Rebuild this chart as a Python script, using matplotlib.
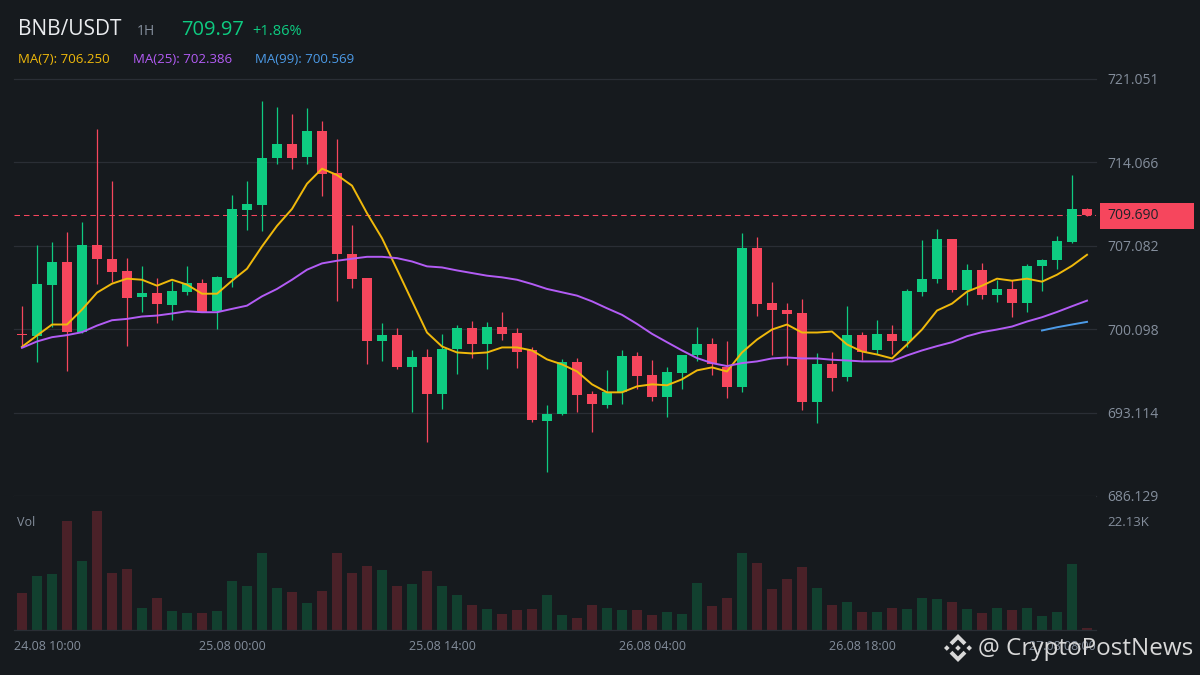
import numpy as np
import matplotlib
matplotlib.use("Agg")
import matplotlib.pyplot as plt
from matplotlib.patches import Rectangle, Polygon
from matplotlib import transforms

plt.rcParams['font.family'] = ['Open Sans', 'DejaVu Sans']

# ---------------- data ----------------
opens = [699.70, 699.57, 703.83, 705.75, 699.85, 707.16, 706.00, 705.00, 702.82, 703.16,
         702.16, 703.24, 703.99, 701.66, 704.41, 710.09, 710.50, 714.43, 715.60, 714.51,
         716.68, 713.18, 706.41, 704.41, 699.15, 699.65, 696.90, 697.73, 694.64, 698.40,
         700.24, 698.82, 700.32, 699.82, 698.32, 692.39, 692.97, 697.32, 694.64, 693.73,
         694.81, 697.82, 696.23, 694.39, 696.40, 697.90, 698.82, 696.90, 695.23, 706.92,
         702.32, 701.74, 701.49, 693.98, 697.15, 696.06, 699.65, 698.32, 699.73, 699.07,
         703.24, 704.33, 707.67, 703.41, 705.08, 702.99, 703.49, 702.32, 705.41, 705.91,
         707.42, 710.17]
highs = [702.07, 707.16, 707.42, 708.25, 709.08, 716.85, 712.51, 706.08, 705.41, 704.41,
         704.16, 705.41, 704.33, 704.58, 711.34, 712.51, 719.19, 718.69, 718.10, 718.60,
         717.52, 716.01, 708.83, 704.41, 700.65, 700.24, 698.32, 698.40, 699.73, 700.49,
         700.82, 700.74, 701.57, 700.24, 698.57, 693.73, 697.57, 697.65, 694.89, 696.65,
         698.32, 698.23, 697.48, 696.90, 697.95, 700.32, 699.40, 699.15, 708.17, 707.83,
         704.08, 702.32, 702.66, 698.07, 698.15, 702.07, 699.90, 700.91, 700.49, 703.49,
         707.58, 708.50, 707.67, 705.58, 705.66, 704.24, 704.24, 705.58, 706.00, 707.92,
         713.01, 710.25]
lows = [698.60, 697.34, 700.27, 696.59, 699.80, 703.91, 704.05, 698.73, 701.57, 700.65,
        700.90, 702.99, 701.55, 700.15, 703.66, 708.42, 708.33, 713.93, 713.51, 713.93,
        711.26, 702.49, 703.57, 697.19, 697.43, 696.73, 693.14, 690.64, 693.39, 696.31,
        697.65, 696.73, 699.23, 696.81, 692.30, 688.13, 692.89, 693.14, 691.47, 693.47,
        693.81, 695.06, 694.06, 692.72, 695.06, 697.40, 696.23, 694.31, 694.81, 701.24,
        697.90, 697.07, 693.31, 692.22, 694.89, 695.73, 697.48, 697.98, 697.98, 698.57,
        702.91, 704.00, 703.24, 702.16, 702.66, 702.41, 701.16, 701.57, 703.33, 705.16,
        707.33, 709.55]
closes = [699.62, 703.91, 705.75, 699.90, 707.16, 706.00, 704.91, 702.74, 703.16, 702.24,
          703.33, 703.99, 701.57, 704.49, 710.17, 710.59, 714.43, 715.60, 714.43, 716.68,
          713.09, 706.41, 704.33, 699.07, 699.65, 696.90, 697.73, 694.64, 698.48, 700.24,
          698.82, 700.32, 699.73, 698.23, 692.47, 692.97, 697.32, 694.56, 693.81, 694.81,
          697.82, 696.15, 694.39, 696.48, 697.90, 698.82, 697.15, 695.23, 706.92, 702.24,
          701.74, 701.41, 693.98, 697.15, 695.98, 699.65, 698.23, 699.73, 699.15, 703.33,
          704.33, 707.67, 703.41, 705.08, 702.99, 703.49, 702.32, 705.41, 705.91, 707.50,
          710.17, 709.69]
volumes_k = [7.42, 10.9, 11.3, 22.1, 14.0, 24.2, 11.5, 12.3, 4.36, 6.40,
             3.75, 3.34, 3.34, 3.75, 9.87, 8.85, 15.6, 8.44, 7.63, 5.38,
             7.83, 15.6, 11.5, 12.9, 12.1, 8.85, 9.26, 11.9, 8.85, 7.01,
             4.97, 4.15, 3.13, 3.95, 4.15, 7.01, 2.93, 2.32, 4.97, 4.36,
             3.95, 3.95, 2.93, 3.54, 3.13, 9.46, 4.77, 6.40, 15.6, 13.6,
             8.24, 10.3, 12.7, 8.44, 4.97, 5.58, 3.54, 3.54, 4.36, 4.15,
             6.40, 6.20, 5.58, 4.15, 3.34, 4.36, 3.95, 4.36, 2.72, 3.54,
             13.3, 0.27]
ma7 = [698.62, 699.57, 700.49, 700.49, 701.74, 703.16, 703.91, 704.33, 704.24, 703.74,
       704.24, 703.83, 703.07, 703.07, 704.16, 705.16, 707.03, 708.75, 710.17, 712.28,
       713.54, 713.01, 712.12, 709.81, 707.72, 705.11, 702.46, 699.82, 698.65, 698.15,
       698.07, 698.15, 698.57, 698.57, 698.32, 697.57, 697.15, 696.56, 695.48, 694.81,
       694.81, 695.31, 695.48, 695.40, 695.90, 696.65, 696.90, 696.56, 698.15, 699.23,
       700.07, 700.49, 699.82, 699.82, 699.90, 698.82, 698.23, 697.98, 697.65, 698.82,
       700.07, 701.66, 702.24, 703.24, 703.74, 704.33, 704.16, 704.33, 704.08, 704.66,
       705.41, 706.33]
ma25 = [698.54, 699.07, 699.43, 699.60, 699.85, 700.40, 700.85, 700.96, 701.16, 701.24,
        701.41, 701.60, 701.52, 701.52, 701.80, 702.07, 702.85, 703.47, 704.24, 705.08,
        705.61, 705.83, 706.00, 706.16, 706.16, 706.05, 705.77, 705.36, 705.27, 705.02,
        704.80, 704.58, 704.44, 704.24, 703.88, 703.47, 703.19, 702.91, 702.43, 701.85,
        701.30, 700.54, 699.71, 699.01, 698.32, 697.68, 697.26, 697.01, 697.26, 697.40,
        697.65, 697.73, 697.65, 697.65, 697.54, 697.48, 697.40, 697.40, 697.40, 697.90,
        698.32, 698.68, 699.01, 699.51, 699.85, 700.07, 700.32, 700.74, 701.10, 701.54,
        702.02, 702.49]
ma99_start = 68
ma99 = [699.99, 700.26, 700.49, 700.71]

price_ticks = [686.129, 693.114, 700.098, 707.082, 714.066, 721.051]
time_tick_idx = [0, 14, 28, 42, 56, 70]
time_tick_labels = ["24.08 10:00", "25.08 00:00", "25.08 14:00",
                    "26.08 04:00", "26.08 18:00", "27.08 08:00"]
last_price = 709.69
vol_label_value = 22.13

# ---------------- style ----------------
BG = '#161A1E'
GRID = '#2A2E35'
TXT = '#848E9C'
UP = '#0ECB81'
DN = '#F6465D'
UPV = '#12402F'
DNV = '#4A2128'
C7 = '#F0B90B'
C25 = '#B35CF5'
C99 = '#4C9BE8'

W, H = 1200, 675
fig = plt.figure(figsize=(12, 6.75), dpi=100, facecolor=BG)

def fx(px):
    return px / W

def fy(py):
    return 1 - py / H

left_px, right_px = 14, 1096
p_top, p_bot = 79, 496
v_bot = 629.5

ax = fig.add_axes([fx(left_px), fy(p_bot), (right_px - left_px) / W, (p_bot - p_top) / H])
axv = fig.add_axes([fx(left_px), fy(v_bot), (right_px - left_px) / W, (v_bot - p_bot) / H])
for a in (ax, axv):
    a.set_facecolor(BG)
    for s in a.spines.values():
        s.set_visible(False)

n = len(closes)
x = np.arange(n)
o = np.array(opens); c = np.array(closes); h = np.array(highs); l = np.array(lows)
up = c >= o
cols = np.where(up, UP, DN)
xlim = (-(22 - left_px) / 15.0, (right_px - 22) / 15.0)

# gridlines
for t in price_ticks:
    ax.axhline(t, color=GRID, lw=0.9, zorder=0, clip_on=False)

ax.vlines(x, l, h, colors=cols, lw=0.9, zorder=2)
body_h = np.maximum(np.abs(c - o), 0.09)
ax.bar(x, body_h, bottom=np.minimum(o, c), width=0.62, color=cols, zorder=3, linewidth=0)

ax.plot(x, ma7, color=C7, lw=1.4, zorder=4, solid_joinstyle='round')
ax.plot(x, ma25, color=C25, lw=1.4, zorder=4, solid_joinstyle='round')
ax.plot(np.arange(ma99_start, ma99_start + len(ma99)), ma99, color=C99, lw=1.4, zorder=4)

ax.axhline(last_price, color=DN, lw=0.75, dashes=(5.3, 3.8), zorder=1)

ax.set_xlim(*xlim)
ax.set_ylim(price_ticks[0], price_ticks[-1])
ax.set_xticks([])
ax.yaxis.tick_right()
ax.set_yticks(price_ticks)
ax.set_yticklabels([f"{t:.3f}" for t in price_ticks])
ax.tick_params(axis='y', length=0, pad=8, labelcolor=TXT, labelsize=10)

# last price label
bt = transforms.blended_transform_factory(fig.transFigure, ax.transData)
box_h = 26 / ((p_bot - p_top) / (price_ticks[-1] - price_ticks[0]))
fig.patches.append(Rectangle((fx(1100), last_price - box_h / 2 - 0.08), fx(94), box_h,
                             transform=bt, facecolor=DN, edgecolor='none', zorder=5))
fig.text(fx(1107), last_price - 0.08, f"{last_price:.3f}", transform=bt, color='#1E2329',
         fontsize=10, va='center', ha='left', zorder=6)

# volume
vcols = np.where(up, UPV, DNV)
axv.bar(x, volumes_k, width=0.62, color=vcols, linewidth=0, zorder=2)
axv.axhline(0, color=GRID, lw=0.9, zorder=3, clip_on=False)
axv.set_xlim(*xlim)
axv.set_ylim(0, vol_label_value * (v_bot - p_bot) / (v_bot - 521))
axv.set_xticks([])
axv.yaxis.tick_right()
axv.set_yticks([vol_label_value])
axv.set_yticklabels([f"{vol_label_value:.2f}K"])
axv.tick_params(axis='y', length=0, pad=8, labelcolor=TXT, labelsize=9.5)

tt = transforms.blended_transform_factory(axv.transData, fig.transFigure)
for k, (i, lab) in enumerate(zip(time_tick_idx, time_tick_labels)):
    if k == 0:
        xx, ha = xlim[0], 'left'
    elif k == len(time_tick_idx) - 1:
        xx, ha = xlim[1], 'right'
    else:
        xx, ha = i, 'center'
    fig.text(xx, fy(647), lab, transform=tt, ha=ha, va='center', color=TXT, fontsize=9)

fig.text(fx(17), fy(523), "Vol", color=TXT, fontsize=9, va='center', ha='left')

# header
fig.text(fx(18), fy(35), "BNB/USDT", color='#EAECEF', fontsize=15, va='baseline')
fig.text(fx(137), fy(35), "1H", color=TXT, fontsize=10, va='baseline')
fig.text(fx(181), fy(35), "709.97", color=UP, fontsize=14.5, va='baseline')
fig.text(fx(252), fy(35), "+1.86%", color=UP, fontsize=10.5, va='baseline')
fig.text(fx(18), fy(63), "MA(7): 706.250", color=C7, fontsize=9.5, va='baseline')
fig.text(fx(133), fy(63), "MA(25): 702.386", color=C25, fontsize=9.5, va='baseline')
fig.text(fx(255), fy(63), "MA(99): 700.569", color=C99, fontsize=9.5, va='baseline')

# watermark
wm_col = '#D8D8D8'
cxl, cyl, s = 958, 648, 14
def logo_poly(pts):
    xy = [(fx(cxl + px * s), fy(cyl - py * s)) for px, py in pts]
    fig.patches.append(Polygon(xy, closed=True, transform=fig.transFigure,
                               facecolor=wm_col, edgecolor='none', zorder=10))
logo_poly([(0, 0.2), (0.2, 0), (0, -0.2), (-0.2, 0)])
logo_poly([(0.8, 0.2), (1.0, 0), (0.8, -0.2), (0.6, 0)])
logo_poly([(-0.8, 0.2), (-0.6, 0), (-0.8, -0.2), (-1.0, 0)])
logo_poly([(0, 1.0), (0.6, 0.4), (0.4, 0.2), (0, 0.6), (-0.4, 0.2), (-0.6, 0.4)])
logo_poly([(0, -1.0), (0.6, -0.4), (0.4, -0.2), (0, -0.6), (-0.4, -0.2), (-0.6, -0.4)])
fig.text(fx(978), fy(649), "@ CryptoPostNews", color=wm_col, fontsize=17.5,
         va='center', ha='left', zorder=10)

fig.savefig("out.png", dpi=100, facecolor=BG)
